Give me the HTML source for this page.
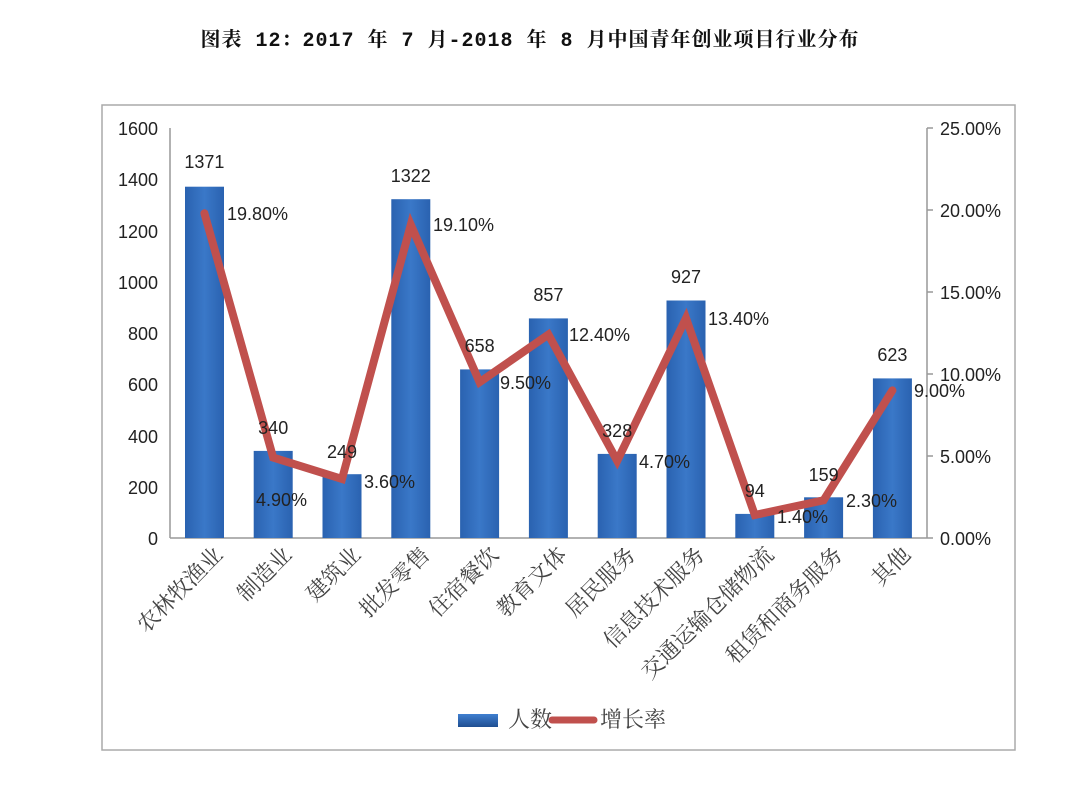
<!DOCTYPE html>
<html><head><meta charset="utf-8"><style>
body{margin:0;background:#fff;}
svg{display:block;}
.ax{font-family:"Liberation Sans","Noto Sans CJK SC",sans-serif;font-size:18px;fill:#222;}
.cat{font-family:"Noto Serif CJK SC","Noto Sans CJK SC",serif;font-size:22px;fill:#444;}
</style></head><body>
<svg width="1085" height="790" viewBox="0 0 1085 790" xmlns="http://www.w3.org/2000/svg">
<defs>
<linearGradient id="bg" x1="0" y1="0" x2="0" y2="1">
<stop offset="0" stop-color="#3F7FD0"/><stop offset="1" stop-color="#1F4E91"/>
</linearGradient>
<linearGradient id="bh" x1="0" y1="0" x2="1" y2="0">
<stop offset="0" stop-color="#2a62b0"/><stop offset="0.5" stop-color="#3a78c8"/><stop offset="1" stop-color="#2a62b0"/>
</linearGradient>
</defs>
<text x="530" y="46" text-anchor="middle" font-family="Liberation Mono,'Noto Serif CJK SC',serif" font-weight="bold" font-size="20" letter-spacing="1" fill="#111">图表 12：2017 年 7 月-2018 年 8 月中国青年创业项目行业分布</text>
<rect x="102" y="105" width="913" height="645" fill="none" stroke="#aaa" stroke-width="1.5"/>
<line x1="170" y1="128" x2="170" y2="538" stroke="#999" stroke-width="1.5"/>
<line x1="170" y1="538" x2="927" y2="538" stroke="#999" stroke-width="1.5"/>
<line x1="927" y1="128" x2="927" y2="538" stroke="#999" stroke-width="1.5"/>
<g stroke="#999" stroke-width="1.5">
<line x1="927" y1="128" x2="933" y2="128"/><line x1="927" y1="210" x2="933" y2="210"/><line x1="927" y1="292" x2="933" y2="292"/><line x1="927" y1="374" x2="933" y2="374"/><line x1="927" y1="456" x2="933" y2="456"/><line x1="927" y1="538" x2="933" y2="538"/>
</g>
<g class="ax" text-anchor="end">
<text x="158" y="135">1600</text><text x="158" y="186">1400</text><text x="158" y="238">1200</text><text x="158" y="289">1000</text><text x="158" y="340">800</text><text x="158" y="391">600</text><text x="158" y="443">400</text><text x="158" y="494">200</text><text x="158" y="545">0</text>
</g>
<g class="ax">
<text x="940" y="135">25.00%</text><text x="940" y="217">20.00%</text><text x="940" y="299">15.00%</text><text x="940" y="381">10.00%</text><text x="940" y="463">5.00%</text><text x="940" y="545">0.00%</text>
</g>
<g fill="url(#bh)">
<rect x="185" y="186.7" width="39" height="351.3"/>
<rect x="253.7" y="450.9" width="39" height="87.1"/>
<rect x="322.5" y="474.2" width="39" height="63.8"/>
<rect x="391.3" y="199.2" width="39" height="338.8"/>
<rect x="460.1" y="369.4" width="39" height="168.6"/>
<rect x="528.9" y="318.4" width="39" height="219.6"/>
<rect x="597.7" y="453.9" width="39" height="84.1"/>
<rect x="666.5" y="300.5" width="39" height="237.5"/>
<rect x="735.3" y="513.9" width="39" height="24.1"/>
<rect x="804.1" y="497.3" width="39" height="40.7"/>
<rect x="872.9" y="378.4" width="39" height="159.6"/>
</g>
<polyline fill="none" stroke="#C0504D" stroke-width="8" stroke-linejoin="miter" stroke-linecap="round"
points="204.4,213.3 273.2,457.6 342,479 410.8,224.8 479.6,382.2 548.4,334.6 617.2,460.9 686,318.2 754.8,515 823.6,500.3 892.4,390.4"/>
<g class="ax" text-anchor="middle">
<text x="204.4" y="168">1371</text><text x="273.2" y="434">340</text><text x="342" y="458">249</text><text x="410.8" y="182">1322</text><text x="479.6" y="352">658</text><text x="548.4" y="301">857</text><text x="617.2" y="437">328</text><text x="686" y="283">927</text><text x="754.8" y="497">94</text><text x="823.6" y="481">159</text><text x="892.4" y="361">623</text>
</g>
<g class="ax">
<text x="227" y="220">19.80%</text><text x="256" y="506">4.90%</text><text x="364" y="488">3.60%</text><text x="433" y="231">19.10%</text><text x="500" y="389">9.50%</text><text x="569" y="341">12.40%</text><text x="639" y="468">4.70%</text><text x="708" y="325">13.40%</text><text x="777" y="523">1.40%</text><text x="846" y="507">2.30%</text><text x="914" y="397">9.00%</text>
</g>
<g class="cat" text-anchor="end">
<text transform="translate(224,556) rotate(-45)">农林牧渔业</text>
<text transform="translate(293,556) rotate(-45)">制造业</text>
<text transform="translate(362,556) rotate(-45)">建筑业</text>
<text transform="translate(431,556) rotate(-45)">批发零售</text>
<text transform="translate(500,556) rotate(-45)">住宿餐饮</text>
<text transform="translate(568,556) rotate(-45)">教育文体</text>
<text transform="translate(637,556) rotate(-45)">居民服务</text>
<text transform="translate(706,556) rotate(-45)">信息技术服务</text>
<text transform="translate(775,556) rotate(-45)">交通运输仓储物流</text>
<text transform="translate(844,556) rotate(-45)">租赁和商务服务</text>
<text transform="translate(912,556) rotate(-45)">其他</text>
</g>
<rect x="458" y="714" width="40" height="13" fill="url(#bg)"/>
<text x="508" y="727" class="cat" font-size="18">人数</text>
<line x1="552" y1="720" x2="594" y2="720" stroke="#C0504D" stroke-width="7" stroke-linecap="round"/>
<text x="600" y="727" class="cat" font-size="18">增长率</text>
</svg>
</body></html>
